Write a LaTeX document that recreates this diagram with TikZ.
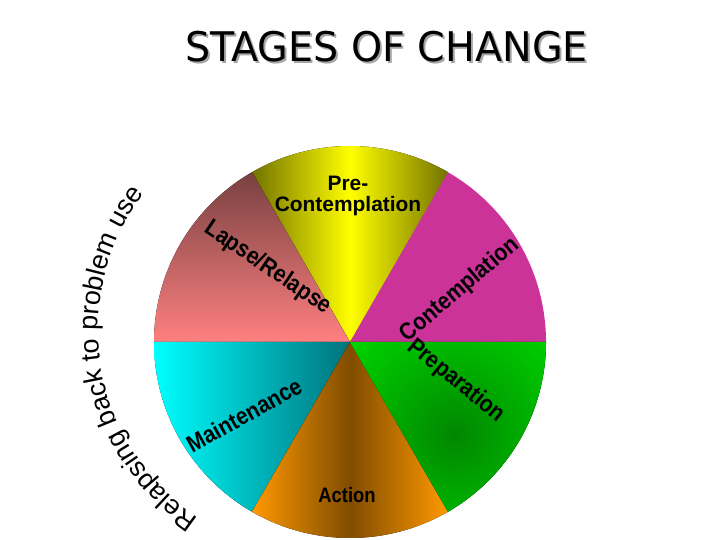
\documentclass[tikz,border=0pt]{standalone}
\usepackage{fontspec}
\setmainfont{Liberation Sans}
\newfontfamily\titlefont{DejaVu Sans}
\newfontfamily\labelfont[FakeStretch=0.88]{Liberation Sans}
\usetikzlibrary{decorations.text}

\definecolor{precolor}{RGB}{255,255,0}
\definecolor{predark}{RGB}{115,115,0}
\definecolor{contcolor}{RGB}{204,51,153}
\definecolor{prepcolor}{RGB}{0,255,0}
\definecolor{prepdark}{RGB}{0,135,0}
\definecolor{actcolor}{RGB}{255,153,0}
\definecolor{actdark}{RGB}{128,76,0}
\definecolor{maincolor}{RGB}{0,255,255}
\definecolor{maindark}{RGB}{0,115,125}
\definecolor{lapsecolor}{RGB}{255,128,128}
\definecolor{lapsedark}{RGB}{120,65,65}

\begin{document}
\begin{tikzpicture}
[x=1bp, y=1bp,
every node/.style = {align=center, inner sep=0pt,
	font=\bfseries\fontsize{21}{22}\selectfont}]
 \tikzset{stagelabel/.style={text=black, font=\labelfont\bfseries\fontsize{24}{24}\selectfont}}
 \useasboundingbox (0,0) rectangle (720,540);
 \coordinate (centre) at (350,198);
 \coordinate (arccentre) at (324,210);

  % wedges
  \fill[left color=predark, right color=predark, middle color=precolor]
  	(centre) -- ++(60:196) arc[start angle=60, end angle=120, radius=196] -- cycle;
  \fill[contcolor]
  	(centre) -- ++(0:196) arc[start angle=0, end angle=60, radius=196] -- cycle;
  \fill[top color=lapsedark, bottom color=lapsecolor]
  	(centre) -- ++(120:196) arc[start angle=120, end angle=180, radius=196] -- cycle;
  \fill[left color=maincolor, right color=maindark]
  	(centre) -- ++(180:196) arc[start angle=180, end angle=240, radius=196] -- cycle;
  \fill[left color=actcolor, right color=actcolor, middle color=actdark]
  	(centre) -- ++(240:196) arc[start angle=240, end angle=300, radius=196] -- cycle;
  \begin{scope}
  	\clip (centre) -- ++(300:196) arc[start angle=300, end angle=360, radius=196] -- cycle;
  	\fill[prepcolor] (centre) rectangle ++(200,-200);
  	\fill[inner color=prepdark, outer color=prepcolor] (455,105) circle (220);
  \end{scope}

  % labels
  \node (pre) at (348,344) {Pre-\\Contemplation};
  \node[stagelabel, rotate=-34] (lapse) at (268,272) {Lapse/Relapse};
  \node[stagelabel, rotate=40] (cont) at (460,250) {Contemplation};
  \node[stagelabel, rotate=-39] (prep) at (456,159) {Preparation};
  \node[stagelabel, rotate=29] (maint) at (244,125) {Maintenance};
  \node[stagelabel, font=\labelfont\bfseries\fontsize{21}{21}\selectfont] (act) at (347,45) {Action};

  % title
  \node[text=black!35, font=\titlefont\fontsize{41}{41}\selectfont, xscale=0.97]
  	(titleshadow) at (388.5,491) {STAGES OF CHANGE};
  \node[font=\titlefont\fontsize{41}{41}\selectfont, xscale=0.97]
  	(title) at (386.5,493) {STAGES OF CHANGE};

  % relapse arc
  \path[decorate, decoration={text along path, text align=center,
  	text={|\mdseries\fontsize{27}{27}\selectfont|Relapsing back to problem use}}]
  	(arccentre) ++(242:226) arc[start angle=242, end angle=137, radius=226];
\end{tikzpicture}
\end{document}
